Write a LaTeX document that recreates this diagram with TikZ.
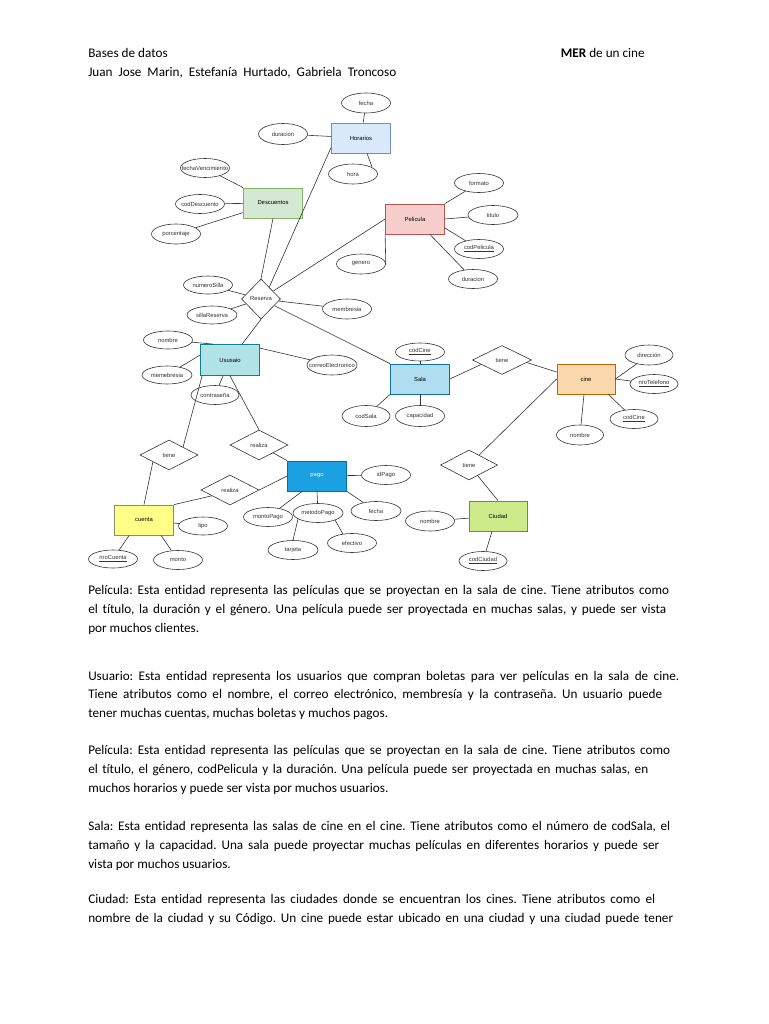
\documentclass[tikz,border=0pt]{standalone}
\usepackage{fontspec}
\setmainfont{Carlito}[Ligatures=NoCommon]
\newfontfamily\dfont{Liberation Sans}
\usetikzlibrary{shapes.geometric,calc}
\newcommand\zb[1]{\makebox[0pt]{#1}}
\newcommand\fl[2]{\makebox[\dimexpr #1pt*3/4\relax][s]{#2}}
\definecolor{hfill}{HTML}{DAE8FC}\definecolor{hdraw}{HTML}{6C8EBF}
\definecolor{dfill}{HTML}{D5E8D4}\definecolor{ddraw}{HTML}{82B366}
\definecolor{pfill}{HTML}{F8CECC}\definecolor{pdraw}{HTML}{B85450}
\definecolor{ufill}{HTML}{B0E3E6}\definecolor{udraw}{HTML}{0E8088}
\definecolor{sfill}{HTML}{B1DDF0}\definecolor{sdraw}{HTML}{10739E}
\definecolor{cfill}{HTML}{FAD7AC}\definecolor{cdraw}{HTML}{B46504}
\definecolor{gfill}{HTML}{1BA1E2}\definecolor{gdraw}{HTML}{006EAF}
\definecolor{yfill}{HTML}{FFFF88}\definecolor{ydraw}{HTML}{8A8A70}
\definecolor{lfill}{HTML}{CDEB8B}\definecolor{ldraw}{HTML}{7A7A7A}
\definecolor{ink}{HTML}{333333}
\tikzset{
  dfnt/.style={font={\dfont\fontsize{4.4}{5.2}\selectfont}},
  ent/.style 2 args={draw=#2, fill=#1, rectangle, minimum width=44.25pt, minimum height=22.5pt, inner sep=0pt, line width=0.6pt, dfnt, text=black},
  att/.style 2 args={draw=ink, ellipse, minimum width=#1*0.75pt, minimum height=#2*0.75pt, inner sep=0pt, line width=0.45pt, dfnt, text=ink},
  rel/.style 2 args={draw=ink, diamond, minimum width=#1*0.75pt, minimum height=#2*0.75pt, inner sep=0pt, line width=0.45pt, dfnt, text=ink},
  conn/.style={draw=ink, line width=0.45pt},
  txt/.style={anchor=base west, inner sep=0pt, font={\fontsize{9.9}{11}\selectfont\frenchspacing}, text=black}
}
\begin{document}
\begin{tikzpicture}[x=0.75pt,y=-0.75pt]
\useasboundingbox (0,0) rectangle (768,1024);
\fill[white] (0,0) rectangle (768,1024);
% header
\node[txt] (h1) at (88,58) {Bases de datos};
\node[txt] (h2) at (88,76) {\fl{308}{Juan Jose Marin, Estefanía Hurtado, Gabriela Troncoso}};
\node[txt, anchor=base east] (h3) at (645,58) {\textbf{MER} de un cine};
% entities
\node[ent={hfill}{hdraw}] (Horarios) at (361,138) {Horarios};
\node[ent={dfill}{ddraw}] (Descuentos) at (273,203) {Descuentos};
\node[ent={pfill}{pdraw}] (Pelicula) at (415,219) {Pelicula};
\node[ent={ufill}{udraw}, minimum height=23.25pt] (Usuario) at (230,360) {Ususaio};
\node[ent={sfill}{sdraw}] (Sala) at (420,379) {Sala};
\node[ent={cfill}{cdraw}, minimum width=43.5pt] (cine) at (586,379) {cine};
\node[ent={gfill}{gdraw}, text=white] (pago) at (317,476) {pago};
\node[ent={yfill}{ydraw}] (cuenta) at (144,520) {cuenta};
\node[ent={lfill}{ldraw}, minimum width=43.5pt] (Ciudad) at (498,516) {Ciudad};
% relationships
\node[rel={39}{40}] (Reserva) at (261,299) {\zb{Reserva}};
\node[rel={59}{29}] (tieneB) at (502,360) {\zb{tiene}};
\node[rel={57}{30}] (tieneC) at (469,465) {\zb{tiene}};
\node[rel={58}{30}] (tieneA) at (169,455) {\zb{tiene}};
\node[rel={58}{30}] (realizaA) at (259,445) {\zb{realiza}};
\node[rel={58}{30}] (realizaB) at (230,490) {\zb{realiza}};
% attributes
\node[att={49}{20}] (fecha) at (366,103) {\zb{fecha}};
\node[att={49}{21}] (duracionH) at (283,134) {\zb{duracion}};
\node[att={49}{20}] (hora) at (353,174) {\zb{hora}};
\node[att={49}{19}] (fechaV) at (205,168) {\zb{fechaVencimiento}};
\node[att={49}{19}] (codDesc) at (200,204) {\zb{codDescuento}};
\node[att={49}{20}] (porcentaje) at (176,234) {\zb{porcentaje}};
\node[att={49}{19}] (formato) at (479,183) {\zb{formato}};
\node[att={50}{19}] (titulo) at (493,215) {\zb{titulo}};
\node[att={49}{19}] (codPelicula) at (479,249) {\zb{\underline{codPelicula}}};
\node[att={49}{19}] (duracionP) at (473,279) {\zb{duracion}};
\node[att={49}{20}] (genero) at (361,264) {\zb{genero}};
\node[att={49}{18}] (numeroSilla) at (208,285) {\zb{numeroSilla}};
\node[att={50}{18}] (sillaReserva) at (212,315) {\zb{sillaReserva}};
\node[att={49}{20}] (membresiaR) at (347,309) {\zb{membresia}};
\node[att={49}{18}] (nombreU) at (168,340) {\zb{nombre}};
\node[att={50}{18}] (membresiaU) at (167,375) {\zb{memebresia}};
\node[att={48}{19}] (contrasena) at (215,395) {\zb{contraseña}};
\node[att={50}{20}] (correo) at (332,365) {\zb{correoElectronico}};
\node[att={49}{18}] (codCineS) at (420,352) {\zb{\underline{codCine}}};
\node[att={48}{21}] (codSala) at (366,416) {\zb{codSala}};
\node[att={49}{21}] (capacidad) at (420,416) {\zb{capacidad}};
\node[att={48}{20}] (direccion) at (649,355) {\zb{dirección}};
\node[att={48}{19}] (nroTelefono) at (654,384) {\zb{\underline{nroTelefono}}};
\node[att={48}{19}] (codCineC) at (634,419) {\zb{\underline{codCine}}};
\node[att={47}{20}] (nombreC) at (580,435) {\zb{nombre}};
\node[att={49}{20}] (nombreCi) at (430,521) {\zb{nombre}};
\node[att={48}{19}] (codCiudad) at (483,561) {\zb{\underline{codCiudad}}};
\node[att={49}{18}] (tipo) at (203,526) {\zb{tipo}};
\node[att={49}{18}] (nroCuenta) at (113,559) {\zb{\underline{nroCuenta}}};
\node[att={49}{19}] (monto) at (178,560) {\zb{monto}};
\node[att={49}{19}] (idPago) at (386,475) {\zb{idPago}};
\node[att={50}{19}] (fechaP) at (376,511) {\zb{fecha}};
\node[att={49}{19}] (montoPago) at (268,517) {\zb{montoPago}};
\node[att={50}{19}] (metodoPago) at (318,513) {\zb{metodoPago}};
\node[att={50}{19}] (tarjeta) at (293,550) {\zb{tarjeta}};
\node[att={49}{19}] (efectivo) at (352,543) {\zb{efectivo}};
% connectors
\begin{scope}[every path/.style={conn}]
\draw (fecha) -- (Horarios);
\draw (duracionH) -- (Horarios);
\draw ($(Horarios.south)+(6,0)$) -- ($(hora.center)+(19,-7)$);
\draw (fechaV) -- (Descuentos);
\draw (codDesc) -- (Descuentos);
\draw (porcentaje) -- (Descuentos);
\draw (Descuentos.south) -- (Reserva.north);
\draw (Reserva.55) -- ($(Horarios.south west)+(0,-6)$);
\draw (Reserva) -- (Pelicula.west);
\draw (Reserva) -- (membresiaR);
\draw (numeroSilla) -- (Reserva);
\draw (sillaReserva) -- (Reserva);
\draw (Reserva) -- (Sala.north west);
\draw (Reserva.south) -- ($(Usuario.north west)+(42,0)$);
\draw (nombreU) -- ($(Usuario.north west)+(13,0)$);
\draw (membresiaU) -- ($(Usuario.west)+(0,-5)$);
\draw (contrasena) -- ($(Usuario.south)+(-7,0)$);
\draw (correo) -- ($(Usuario.north east)+(0,4)$);
\draw ($(Usuario.south west)+(2,0)$) -- ($(tieneA.north)!0.48!(tieneA.east)$);
\draw (Usuario.south) -- (realizaA.north);
\draw (realizaA) -- (pago.north west);
\draw ($(tieneA.west)!0.45!(tieneA.south)$) -- (cuenta.north);
\draw (cuenta.north east) -- ($(realizaB.west)!0.38!(realizaB.south)$);
\draw (realizaB.east) -- (pago.west);
\draw (tipo) -- (cuenta);
\draw ($(cuenta.south west)+(15,0)$) -- (nroCuenta);
\draw ($(cuenta.south west)+(47,0)$) -- (monto);
\draw (pago) -- (idPago);
\draw (pago.south east) -- (fechaP);
\draw ($(pago.south west)+(15,0)$) -- (montoPago);
\draw (pago.south) -- (metodoPago);
\draw ($(metodoPago.center)+(-20,6)$) -- (tarjeta.north);
\draw ($(metodoPago.center)+(17,7)$) -- ($(efectivo.center)+(-9,-9)$);
\draw (tieneC) -- (Ciudad.north);
\draw (tieneC) -- (cine.west);
\draw (nombreCi) -- (Ciudad);
\draw ($(Ciudad.south)+(-6,0)$) -- (codCiudad);
\draw (Sala.east) -- ($(tieneB.west)!0.3!(tieneB.south)$);
\draw ($(tieneB.east)!0.17!(tieneB.south)$) -- ($(cine.west)+(0,-7)$);
\draw (codCineS) -- (Sala.north);
\draw (Sala.south west) -- (codSala);
\draw (Sala.south) -- (capacidad);
\draw (cine.east) -- (direccion);
\draw (cine.east) -- (nroTelefono);
\draw ($(cine.south east)+(-7,0)$) -- (codCineC);
\draw ($(cine.south)+(-2,0)$) -- (nombreC);
\draw (Pelicula.north east) -- (formato);
\draw (Pelicula.east) -- (titulo);
\draw ($(Pelicula.east)+(0,9)$) -- (codPelicula);
\draw ($(Pelicula.south east)+(-15,0)$) -- (duracionP);
\draw (Pelicula.south west) -- (genero.east);
\end{scope}
% paragraphs
\node[txt] (p11) at (88,594) {\fl{581}{Película: Esta entidad representa las películas que se proyectan en la sala de cine. Tiene atributos como}};
\node[txt] (p12) at (88,613) {\fl{578}{el título, la duración y el género. Una película puede ser proyectada en muchas salas, y puede ser vista}};
\node[txt] (p13) at (88,632) {por muchos clientes.};
\node[txt] (p21) at (88,680) {\fl{591}{Usuario: Esta entidad representa los usuarios que compran boletas para ver películas en la sala de cine.}};
\node[txt] (p22) at (88,698) {\fl{574}{Tiene atributos como el nombre, el correo electrónico, membresía y la contraseña. Un usuario puede}};
\node[txt] (p23) at (88,717) {tener muchas cuentas, muchas boletas y muchos pagos.};
\node[txt] (p31) at (88,754) {\fl{582}{Película: Esta entidad representa las películas que se proyectan en la sala de cine. Tiene atributos como}};
\node[txt] (p32) at (88,773) {\fl{560}{el título, el género, codPelicula y la duración. Una película puede ser proyectada en muchas salas, en}};
\node[txt] (p33) at (88,792) {muchos horarios y puede ser vista por muchos usuarios.};
\node[txt] (p41) at (88,830) {\fl{582}{Sala: Esta entidad representa las salas de cine en el cine. Tiene atributos como el número de codSala, el}};
\node[txt] (p42) at (88,849) {\fl{571}{tamaño y la capacidad. Una sala puede proyectar muchas películas en diferentes horarios y puede ser}};
\node[txt] (p43) at (88,868) {vista por muchos usuarios.};
\node[txt] (p51) at (88,903) {\fl{567}{Ciudad: Esta entidad representa las ciudades donde se encuentran los cines. Tiene atributos como el}};
\node[txt] (p52) at (88,922) {\fl{585}{nombre de la ciudad y su Código. Un cine puede estar ubicado en una ciudad y una ciudad puede tener}};
\end{tikzpicture}
\end{document}
